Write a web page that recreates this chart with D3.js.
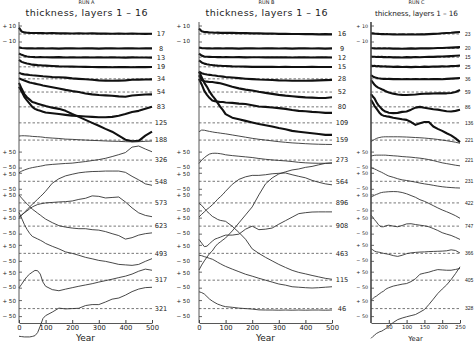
<!DOCTYPE html>
<html><head><meta charset="utf-8">
<script src="https://cdn.jsdelivr.net/npm/d3@7"></script>
<style>body{margin:0;background:#fff}text{font-family:"DejaVu Sans",sans-serif;fill:#222}</style>
</head><body><svg id="c" width="474" height="345"></svg>
<script>
// years sampled for runs A and B (500 yr) and run C (250 yr)
const yearsAB = [0,10,20,30,40,50,60,70,80,90,100,125,150,175,200,225,250,275,300,325,350,375,400,425,450,475,500];
const yearsC  = [0,5,10,15,20,25,30,35,40,45,50,62.5,75,87.5,100,112.5,125,137.5,150,162.5,175,187.5,200,212.5,225,237.5,250];
// stacking level of each layer's zero line (in units of the +/-10 scale)
const layerLevels = [15,33,44,56,71,87.5,106,126,147.5,172.5,199,226,255,289,322.5,358];
// scale of each layer's anomaly (label +/-10 or +/-50)
const layerScale = [10,10,10,10,10,10,10,10,10,50,50,50,50,50,50,50];

const labelsA = ["17","8","13","19","34","54","83","125","188","326","548","573","623","493","317","321"];
const labelsB = ["16","9","12","15","28","52","80","109","159","273","564","896","908","463","115","46"];
const labelsC = ["23","20","15","25","36","59","86","136","221","221","231","422","747","366","405","328"];

const runA = [
 [8,3,2,1.6,1.4,1.3,1.2,1.3,1.1,1.2,1,1.2,0.8,1,0.7,0.9,0.6,0.8,0.5,0.7,0.4,0.6,0.3,0.5,0.4,0.2,0.4],
 [1.5,0.5,0.3,0.1,0,0.2,-0.1,0.1,0,0.2,-0.1,0.1,-0.2,0,0.2,-0.1,0,0.1,-0.2,0,0.1,-0.1,0,0.2,-0.1,0,0.1],
 [4.6,3,1.9,1,0.6,0.3,0.1,0,0.1,-0.1,0,-0.2,0.1,-0.3,-0.1,-0.3,0,-0.4,-0.2,-0.4,-0.1,-0.3,-0.5,-0.2,-0.4,-0.3,-0.5],
 [8.7,6.2,5,4.2,3.5,2.7,2.4,2.1,1.9,1.7,1.5,1,0.6,0.4,0.2,0.1,0,-0.2,-0.4,-0.3,-0.5,-0.3,-0.4,-0.6,-0.3,-0.4,-0.3],
 [7.5,6.2,5.6,5.3,4.8,4.4,4.2,3.9,3.6,3.2,2.9,2.2,1.9,1.5,0.6,0,-0.6,-1.2,-1.9,-2.2,-2.4,-2.2,-1.9,-1.2,-1,-0.9,-0.7],
 [17.5,15.6,14.4,13.3,12,11.2,10.5,9.8,9,8.2,7.5,5.9,4.4,2.7,1.2,0,-1.9,-2.9,-3.7,-4.1,-4.6,-5.4,-5.9,-4.4,-3.7,-3.1,-2.9],
 [25,19,12.5,8,4,0,-2.5,-4,-5,-6,-7,-8,-9,-10,-11,-11.5,-12,-12.5,-13,-13,-12.5,-11,-9,-6.5,-5,-2.5,0],
 [50,42.5,36,32,29,26,25,24,23,22,21,19,17.5,15,11,7.5,3.7,0,-3.7,-7.5,-11,-16,-21,-23,-22.5,-16,-11],
 [5,5.4,5.4,5.2,5,4.6,4.4,4.2,4,3.6,3.1,2.5,2,1.2,0.9,0.4,0,-0.4,-0.7,-1.1,-1.4,-1.6,-2,-2.2,-2,-1.6,-1.2],
 [-79,-69,-62,-56,-51,-47,-44,-41,-38,-35,-31,-27,-24,-21,-19,-14,-9,-3,3,11,22,34,47,81,88,69,52],
 [-233,-212,-194,-178,-160,-144,-128,-112,-96,-80,-62,-12,16,34,44,53,58,61,62,64,64,64,56,31,9,-16,-25],
 [-86,-75,-62,-50,-37,-25,-17,-10,-6,-3,0,3,6,8,12,22,29,44,41,31,34,37,6,-31,-62,-78,-86],
 [194,175,156,140,123,106,94,81,69,56,44,22,3,-6,-12,-16,-16,-22,-25,-34,-47,-59,-81,-72,-56,-47,-42],
 [256,219,181,150,125,106,98,90,82,73,62,44,28,9,0,-12,-25,-34,-44,-50,-59,-69,-72,-75,-69,-50,-33],
 [-48,-25,0,22,38,50,61,59,38,-12,-38,-59,-66,-56,-47,-38,-30,-22,-12,-3,6,16,25,38,56,69,62],
 [-173,-175,-177,-177,-177,-174,-169,-150,-109,-62,-44,-22,3,-2,0,2,19,25,25,41,59,66,84,106,122,131,133]
];
const runB = [
 [7,3.5,2.6,2.3,1.9,1.9,1.6,1.7,1.4,1.6,1.4,1.4,1.1,1.1,0.8,0.8,0.5,0.6,0.2,0.3,0,0.1,-0.2,-0.1,-0.4,-0.2,-0.4],
 [1.2,0.4,0.2,0,0.1,-0.1,0.1,0,0.2,-0.1,0,0.1,-0.2,0,0.1,-0.1,0,0.2,-0.1,0,-0.2,0.1,0,-0.1,0.1,-0.2,0],
 [4.5,2,1,0.6,0.4,0.2,0.3,0.1,0.2,0,0.1,-0.1,0.1,-0.2,0,-0.1,-0.2,0,-0.2,-0.1,-0.3,-0.1,-0.2,-0.3,-0.1,-0.2,-0.3],
 [8,5.5,4,3.3,2.7,2.2,1.8,1.5,1.3,1.1,1,0.6,0.4,0.2,0,0.1,-0.1,0,-0.2,-0.1,-0.3,-0.2,-0.3,-0.1,-0.3,-0.2,-0.3],
 [9,7,6,5.4,5,4.5,4.1,3.6,3.2,2.8,2.3,1.6,0.9,0.2,-0.4,-0.9,-1.2,-1.5,-1.9,-2.1,-2.3,-2.4,-2.4,-2.2,-1.9,-1.6,-1.4],
 [21,15,13.5,13,12.5,12.5,12,11.5,11,10,9,6.5,4.6,3,2,0.4,-1,-2.3,-3.5,-4.5,-5.3,-6,-6.6,-7,-7.5,-7.5,-6.5],
 [35,28,20,15,11,8,7,6.5,6,6,5.5,5,4,3.5,2,0.5,0,-0.8,-1.6,-2.5,-4,-5,-5.5,-6.3,-6.8,-7.5,-7.5],
 [64,57,50,45,39,34,30,25,20,16,11,6.5,4.5,2.5,0.5,-1.5,-3,-4.5,-6.5,-8,-10,-11,-12,-13,-14,-15,-15],
 [10.4,12.5,12.3,11.5,10.8,10.2,9.6,9.2,8.7,8.2,7.8,6.4,5,3.6,2.2,1,0,-1,-2,-2.8,-3.5,-4,-4.5,-4.9,-5.2,-5.4,-5.5],
 [-21,0,15,28,38,42,43,42,40,37,33,28,24,20,16,10,5,1,-2,-5,-9,-14,-17,-19,-20,-20,-19],
 [-223,-206,-191,-175,-162,-147,-131,-112,-97,-81,-62,-19,12,28,37,37,41,47,50,52,41,31,22,6,-6,-16,-22],
 [-419,-388,-362,-338,-316,-300,-275,-256,-244,-231,-219,-175,-125,-75,-25,50,119,156,181,194,206,212,222,228,238,247,250],
 [-83,-106,-128,-125,-109,-94,-81,-75,-69,-62,-56,-56,-50,-19,0,-22,-19,-12,12,34,56,78,84,88,89,89,89],
 [312,300,281,262,247,231,222,212,206,203,200,169,131,88,28,0,-25,-47,-69,-88,-106,-119,-128,-138,-147,-156,-162],
 [156,153,147,142,136,131,122,112,103,94,86,69,53,37,25,12,0,-12,-24,-31,-41,-44,-47,-49,-47,-44,-41],
 [105,100,91,75,59,47,37,28,22,16,12,8,3,0,-3,-8,-9,-9,-10,-9,-10,-9,-10,-9,-9,-10,-9]
];
const runC = [
 [1,0.8,0.5,0.3,0.2,0,-0.2,0,-0.3,-0.1,-0.3,-0.5,-0.6,-0.4,-0.6,-0.5,-0.7,-0.3,-0.4,-0.1,0.2,0.3,0.9,1.2,1.5,2,2.5],
 [0.5,0.2,0,-0.2,0,0.2,-0.1,0,0.1,-0.2,0,-0.3,-0.1,-0.4,-0.2,0,-0.3,0,0.2,0,0.3,0.5,0.6,0.8,1,1.3,1.6],
 [0.8,0.5,0.6,0.3,0.5,0.2,0.4,0.1,0.3,0,0.2,-0.2,0,-0.3,0.1,-0.2,0.2,0,0.3,0.5,0.4,0.7,0.9,1.1,1.4,1.8,2.2],
 [1.5,1,1.2,0.8,1,0.6,0.8,0.4,0.6,0.3,0.5,0,0.2,-0.3,-0.1,-0.4,0,-0.2,0.2,0,0.4,0.2,0.6,0.5,0.9,1.1,1.5],
 [4.5,3,2,1.3,0.8,0.5,0.2,0,0.2,-0.2,0,-0.4,-0.2,-0.5,-0.3,-0.6,-0.4,-0.5,-0.3,-0.6,-0.4,-0.2,-0.5,0,0.3,0.6,1],
 [15,12,9,7,5.5,4.6,3.5,2.5,1.3,0.3,-0.5,-2,-3,-3.5,-3.7,-3.3,-3,-2.5,-2.2,-2,-1.8,-1.6,-1.7,-1.6,-1.2,0,2.5],
 [16,13,10.5,6,2.5,0,-2.5,-4.5,-5.8,-6.5,-7.3,-7.8,-7.5,-6.3,-5.8,-3.5,-1,0,-1.2,-2,-3,-3.5,-4.5,-5.5,-5.8,-5,-3.7],
 [29,25,21,18,15,12,10,9,8.5,8,7.8,6.5,5.5,4.5,3.7,1,-2.5,-0.5,1,1,-4.6,-7.5,-10,-13,-15.6,-19.4,-24],
 [-2,-0.5,0.8,2,2.8,3.3,3.8,4,4.1,4.1,4.1,4.1,4.1,4,3.8,3.5,3.2,2.9,2.5,2,1.5,0.8,0,-0.8,-1.7,-2.7,-4],
 [25,28,30,31,31,31,31,31,31,30,29,27,25,22,20,18,15,12,8,3,-3,-10,-17,-22,-27,-32,-36],
 [86,81,77,72,66,61,56,50,44,38,33,25,16,9,5,0,-5,-11,-16,-20,-25,-30,-34,-37,-39,-41,-42],
 [36,42,48,53,57,62,65,67,68,69,70,71,70,65,57,46,35,20,10,-3,-17,-31,-44,-55,-67,-80,-96],
 [69,55,40,27,12,0,-4,-4,0,4,6,0,-4,4,14,15,10,6,2,-4,-15,-27,-41,-50,-58,-70,-83],
 [29,22,14,10,8,6,3,0,-2,-4,-6,-14,-19,-12,-2,3,6,8,9,11,12,13,14,16,22,18,2],
 [-125,-116,-106,-100,-91,-83,-75,-69,-59,-52,-47,-37,-31,-25,-21,-9,9,37,44,50,59,66,64,62,62,67,73],
 [-186,-175,-166,-156,-150,-144,-141,-134,-127,-119,-109,-87,-69,-59,-51,-44,-37,-22,-6,25,59,94,122,148,181,219,261]
];

const svg = d3.select("#c");
const yPlot = d3.scaleLinear().domain([0, 376]).range([22, 323]);

const panels = [
 {run:"RUN A", series:runA, labels:labelsA, years:yearsAB, maxYear:500, ticks:[0,100,200,300,400,500],
  x0:19, x1:152, labX:161, labAnchor:"middle", labFs:6.6, labFont:"DejaVu Sans", scaleX:16, scaleFs:5.6,
  tickFs:6.8, tickFont:"Liberation Sans", titleFs:9.5, titleW:122, yearFs:9},
 {run:"RUN B", series:runB, labels:labelsB, years:yearsAB, maxYear:500, ticks:[0,100,200,300,400,500],
  x0:199, x1:332, labX:342, labAnchor:"middle", labFs:6.6, labFont:"DejaVu Sans", scaleX:190, scaleFs:5.6,
  tickFs:6.8, tickFont:"Liberation Sans", titleFs:9.5, titleW:122, yearFs:9},
 {run:"RUN C", series:runC, labels:labelsC, years:yearsC, maxYear:250, ticks:[50,100,150,200,250],
  x0:371, x1:460, labX:465, labAnchor:"start", labFs:5, labFont:"Liberation Sans", scaleX:368, scaleFs:4.8,
  tickFs:5.4, tickFont:"Liberation Sans", titleFs:7.3, titleW:83, yearFs:6.8}
];

panels.forEach(p => {
  const x = d3.scaleLinear().domain([0, p.maxYear]).range([p.x0, p.x1]);
  const g = svg.append("g");
  const cx = (p.x0 + p.x1) / 2;

  g.append("text").attr("x", cx + 1).attr("y", 4).attr("text-anchor", "middle")
    .attr("font-size", 5).text(p.run);
  g.append("text").attr("x", cx + 1).attr("y", 16).attr("text-anchor", "middle")
    .attr("font-size", p.titleFs).attr("textLength", p.titleW).attr("lengthAdjust", "spacing")
    .attr("fill", "#333").text("thickness, layers 1 \u2013 16");

  // dashed zero lines
  layerLevels.forEach(lv => {
    g.append("line").attr("x1", x(0)).attr("x2", x(p.maxYear))
      .attr("y1", yPlot(lv)).attr("y2", yPlot(lv))
      .attr("stroke", "#555").attr("stroke-width", 0.8).attr("stroke-dasharray", "2.5,2");
  });

  // curves
  p.series.forEach((vals, i) => {
    const f = 10 / layerScale[i];
    const line = d3.line().x((d, j) => x(p.years[j])).y(d => yPlot(layerLevels[i] - d * f));
    g.append("path").attr("d", line(vals)).attr("fill", "none")
      .attr("stroke", i < 8 ? "#111" : "#333")
      .attr("stroke-width", i < 8 ? 2.1 : 0.9)
      .attr("stroke-linejoin", "round");
  });

  // layer labels
  p.labels.forEach((lb, i) => {
    g.append("text").attr("x", p.labX).attr("y", yPlot(layerLevels[i]))
      .attr("dy", "0.35em").attr("text-anchor", p.labAnchor).attr("font-size", p.labFs)
      .style("font-family", p.labFont).text(lb);
  });

  // left axis with scale ticks
  g.append("line").attr("x1", p.x0).attr("x2", p.x0).attr("y1", yPlot(0)).attr("y2", yPlot(376))
    .attr("stroke", "#444").attr("stroke-width", p.run === "RUN C" ? 1.6 : 0.9);
  layerLevels.forEach((lv, i) => {
    if (i !== 0 && i < 9) return;
    const s = layerScale[i];
    [[s, "+ ", 0.5], [-s, "\u2212 ", -0.6]].forEach(([v, sign, nudge]) => {
      const yy = yPlot(lv - v * 10 / s);
      g.append("line").attr("x1", p.x0).attr("x2", p.x0 + 3).attr("y1", yy).attr("y2", yy)
        .attr("stroke", "#444").attr("stroke-width", 0.8);
      g.append("text").attr("x", p.scaleX).attr("y", yy + nudge).attr("dy", "0.33em")
        .attr("text-anchor", "end").attr("font-size", p.scaleFs).text(sign + s);
    });
  });

  // bottom axis
  const ax = g.append("g").attr("transform", `translate(0,${yPlot(376)})`)
    .call(d3.axisBottom(x).tickValues(p.ticks).tickSizeInner(-3).tickSizeOuter(0).tickPadding(2.5));
  ax.select(".domain").attr("stroke", "#444").attr("stroke-width", 0.9);
  ax.selectAll(".tick line").attr("stroke", "#444");
  ax.selectAll("text").attr("font-size", p.tickFs).attr("font-family", p.tickFont).attr("fill", "#222");
  g.append("text").attr("x", cx).attr("y", 341).attr("text-anchor", "middle")
    .attr("font-size", p.yearFs).attr("fill", "#333").text("Year");
});
</script>
</body></html>
